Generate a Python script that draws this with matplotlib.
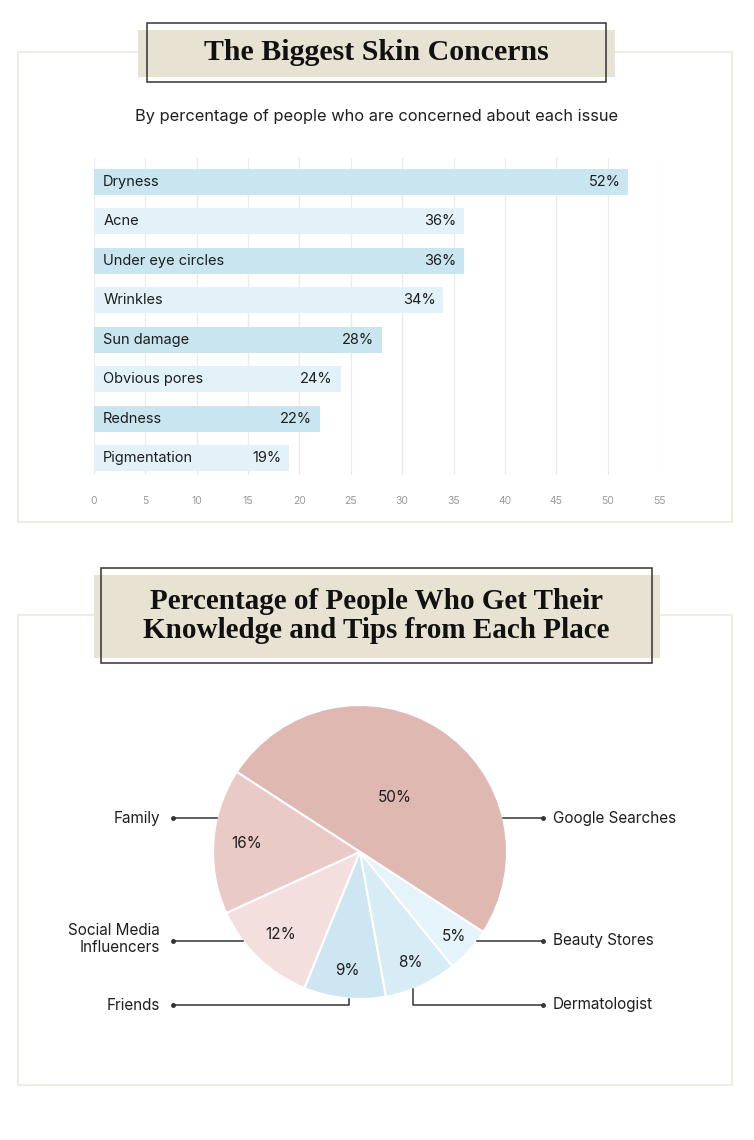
"""
Skin concerns bar chart + knowledge sources pie chart
"""
import numpy as np
import matplotlib.pyplot as plt
from matplotlib.patches import Rectangle

concerns = ['Dryness', 'Acne', 'Under eye circles', 'Wrinkles', 'Sun damage',
            'Obvious pores', 'Redness', 'Pigmentation']
concern_pct = [52, 36, 36, 34, 28, 24, 22, 19]
x_ticks = [0, 5, 10, 15, 20, 25, 30, 35, 40, 45, 50, 55]

sources = ['Google Searches', 'Family', 'Social Media\nInfluencers', 'Friends',
           'Dermatologist', 'Beauty Stores']
source_pct = [50, 16, 12, 9, 8, 5]

W, H = 754, 1140
SANS = 'Inter'
SERIF = 'Liberation Serif'
INK = '#1e1e1e'
BEIGE = '#e8e2d3'
FRAME = '#ece9df'

fig = plt.figure(figsize=(W / 100, H / 100), dpi=100)
fig.patch.set_facecolor('white')

# overlay axes in pixel units (y measured from the top)
bg = fig.add_axes([0, 0, 1, 1])
bg.set_xlim(0, W)
bg.set_ylim(0, H)
bg.axis('off')


def Y(py):
    return H - py


def title_box(fill, outline, text, ty, size):
    fx0, fy0, fx1, fy1 = fill
    bg.add_patch(Rectangle((fx0, Y(fy1)), fx1 - fx0, fy1 - fy0, fc=BEIGE, ec='none', zorder=2))
    ox0, oy0, ox1, oy1 = outline
    bg.add_patch(Rectangle((ox0, Y(oy1)), ox1 - ox0, oy1 - oy0, fc='none', ec='#333333', lw=1.1, zorder=3))
    bg.text((ox0 + ox1) / 2, Y(ty), text, ha='center', va='center', fontsize=size,
            family=SERIF, weight='bold', color='#111111', zorder=4, linespacing=1.12)


# panel frames
bg.add_patch(Rectangle((18, Y(522)), 714, 470, fc='none', ec=FRAME, lw=1.2, zorder=1))
bg.add_patch(Rectangle((18, Y(1085)), 714, 470, fc='none', ec=FRAME, lw=1.2, zorder=1))

title_box((138, 30, 615, 77), (147, 23, 606, 82), 'The Biggest Skin Concerns', 52, 21.5)
title_box((94, 575, 660, 658), (101, 568, 652, 663),
          'Percentage of People Who Get Their\nKnowledge and Tips from Each Place', 616, 21)

bg.text(377, Y(117), 'By percentage of people who are concerned about each issue',
        ha='center', va='center', fontsize=11.8, family=SANS, color=INK)

# ---- bar chart
ax = fig.add_axes([94 / W, 1 - 475 / H, 565 / W, 317 / H])
ax.set_facecolor('none')
y = np.arange(len(concerns))
colors = ['#c8e5f0' if i % 2 == 0 else '#e3f2f9' for i in y]
ax.barh(y, concern_pct, height=0.66, color=colors, zorder=2)
for yi, name, v in zip(y, concerns, concern_pct):
    ax.text(0.9, yi, name, ha='left', va='center', fontsize=10.5, family=SANS, color=INK, zorder=3)
    ax.text(v - 0.75, yi, f'{v}%', ha='right', va='center', fontsize=10.5, family=SANS, color=INK, zorder=3)
ax.set_xlim(0, 55)
ax.set_ylim(len(concerns) - 0.57, -0.61)
ax.set_xticks(x_ticks)
ax.set_xticklabels([str(t) for t in x_ticks], fontsize=7.5, family=SANS, color='#9a9a9a')
ax.tick_params(axis='x', length=0, pad=15)
ax.set_yticks([])
ax.grid(axis='x', color='#ebebeb', lw=1, zorder=0)
for s in ax.spines.values():
    s.set_visible(False)

# ---- pie chart
cx, cy, r = 360, 852, 147
pie_colors = ['#e0b8b2', '#eacac6', '#f3e0de', '#cde6f1', '#d8ecf5', '#e5f3fa']
wedges, _ = bg.pie(source_pct, colors=pie_colors, startangle=-33, counterclock=True,
                   center=(cx, Y(cy)), radius=r,
                   wedgeprops=dict(edgecolor='white', linewidth=1.5), frame=True)
bg.set_xlim(0, W)
bg.set_ylim(0, H)
bg.set_aspect('auto')
bg.axis('off')

pct_dist = [0.44, 0.77, 0.78, 0.81, 0.83, 0.86]
for w, v, d in zip(wedges, source_pct, pct_dist):
    ang = np.deg2rad((w.theta1 + w.theta2) / 2)
    bg.text(cx + d * r * np.cos(ang), Y(cy) + d * r * np.sin(ang), f'{v}%',
            ha='center', va='center', fontsize=11, family=SANS, color=INK, zorder=5)

# callouts: (label row y, side, vertical anchor x or None)
callouts = [(818, 'right', None), (818, 'left', None), (941, 'left', None),
            (1005, 'left', 349), (1005, 'right', 413), (941, 'right', None)]
for name, (ly, side, vx) in zip(sources, callouts):
    dot_x = 543 if side == 'right' else 173
    if vx is None:
        dx = np.sqrt(r ** 2 - (ly - cy) ** 2)
        edge_x = cx + dx if side == 'right' else cx - dx
        xs, ys = [edge_x, dot_x], [Y(ly), Y(ly)]
    else:
        edge_y = cy + np.sqrt(r ** 2 - (vx - cx) ** 2)
        xs, ys = [vx, vx, dot_x], [Y(edge_y), Y(ly), Y(ly)]
    bg.plot(xs, ys, color='#333333', lw=1.1, zorder=4)
    bg.plot([dot_x], [Y(ly)], 'o', color='#333333', ms=2.5, zorder=4)
    if side == 'right':
        bg.text(553, Y(ly), name, ha='left', va='center', fontsize=11, family=SANS, color=INK)
    else:
        bg.text(160, Y(ly - 2 if '\n' in name else ly), name, ha='right', va='center',
                fontsize=11, family=SANS, color=INK, multialignment='right', linespacing=1.2)

fig.savefig('out.png', dpi=100, facecolor='white')
